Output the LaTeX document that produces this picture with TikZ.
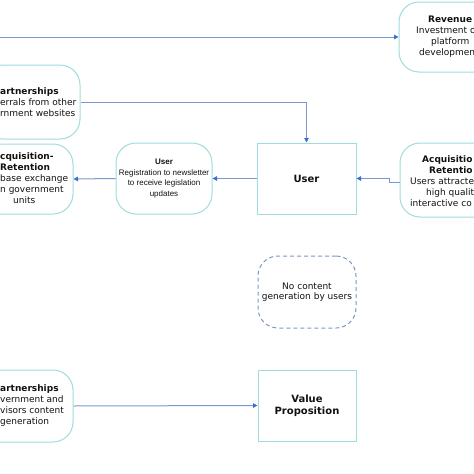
\documentclass[tikz,border=0pt]{standalone}
\usepackage{fontspec}
\setmainfont{DejaVu Sans}
\newfontfamily\smallsans{Liberation Sans}
\usetikzlibrary{positioning,arrows.meta}
\definecolor{boxcol}{HTML}{9FDCDC}
\definecolor{linecol}{HTML}{7898D2}
\definecolor{tipcol}{HTML}{3A6FD0}
\definecolor{dashcol}{HTML}{7C98BE}
\definecolor{txtcol}{HTML}{111111}

\begin{document}
\begin{tikzpicture}[x=1pt,y=-1pt,
  box/.style={draw=boxcol,line width=1pt,minimum width=99pt,minimum height=71pt,inner sep=0pt,
    align=center,text=txtcol,font=\fontsize{10}{12.5}\selectfont\bfseries},
  pill/.style={box,rounded corners=20pt,minimum width=97pt},
  celltext/.style={anchor=west,inner sep=0pt,align=left,text=txtcol,font=\fontsize{9}{11}\selectfont},
  flow/.style={draw=linecol,line width=1pt,-{Triangle[length=4.5pt,width=4.5pt,color=tipcol]}}]
\useasboundingbox (0,0) rectangle (474,474);
\clip (0,0) rectangle (474,474);

\node[pill,minimum height=70pt] (revenue) at (447.5,37) {};
\node[celltext] (revenueText) at (416,37) {\hspace*{12pt}\textbf{Revenue}\\Investment o\\\hspace*{15pt}platform\\\hspace*{3pt}developmen};

\node[pill,minimum height=74pt] (partRef) at (31.5,102) {};
\node[celltext] (partRefText) at (0,102) {\textbf{artnerships}\\errals from other\\rnment websites};

\node[pill,minimum height=70pt] (acqLeft) at (24.5,179) {};
\node[celltext] (acqLeftText) at (0,178.5) {\textbf{cquisition-}\\\textbf{Retention}\\base exchange\\n government\\\hspace*{13pt}units};

\node[pill,minimum width=96pt,font=\smallsans\fontsize{8}{10.7}\selectfont] (newsletter) at (164,178.5)
  {\textbf{User}\\Registration to newsletter\\to receive legislation\\updates};

\node[box] (user) at (306.5,178.5) {User};

\node[pill,minimum height=74pt] (acqRight) at (448.5,180) {};
\node[celltext] (acqRightText) at (410,181.5) {\hspace*{12pt}\textbf{Acquisitio}\\\hspace*{19pt}\textbf{Retentio}\\Users attracte\\\hspace*{16pt}high qualit\\interactive co};

\node[pill,minimum width=98pt,minimum height=72pt,draw=dashcol,dash pattern=on 4pt off 3pt,
  font=\fontsize{9}{10.5}\selectfont] (noContent) at (307,292) {No content\\generation by users};

\node[pill,minimum height=72pt] (partGov) at (24.5,406) {};
\node[celltext] (partGovText) at (0,406) {\textbf{artnerships}\\vernment and\\visors content\\generation};

\node[box,minimum width=98pt] (value) at (307,405.5) {Value\\Proposition};

\coordinate (topStart) at (0,37);
\draw[flow] (topStart) -- (revenue.west);
\draw[flow] (partRef.east) -| (user.north);
\draw[flow] (user.west) -- (newsletter.east);
\draw[flow] (newsletter.west) -- (acqLeft.east);
\draw[flow] ([yshift=-2pt]acqRight.west) -- ++(-10pt,0) |- (user.east);
\draw[flow] (partGov.east) -- (value.west);
\end{tikzpicture}
\end{document}
